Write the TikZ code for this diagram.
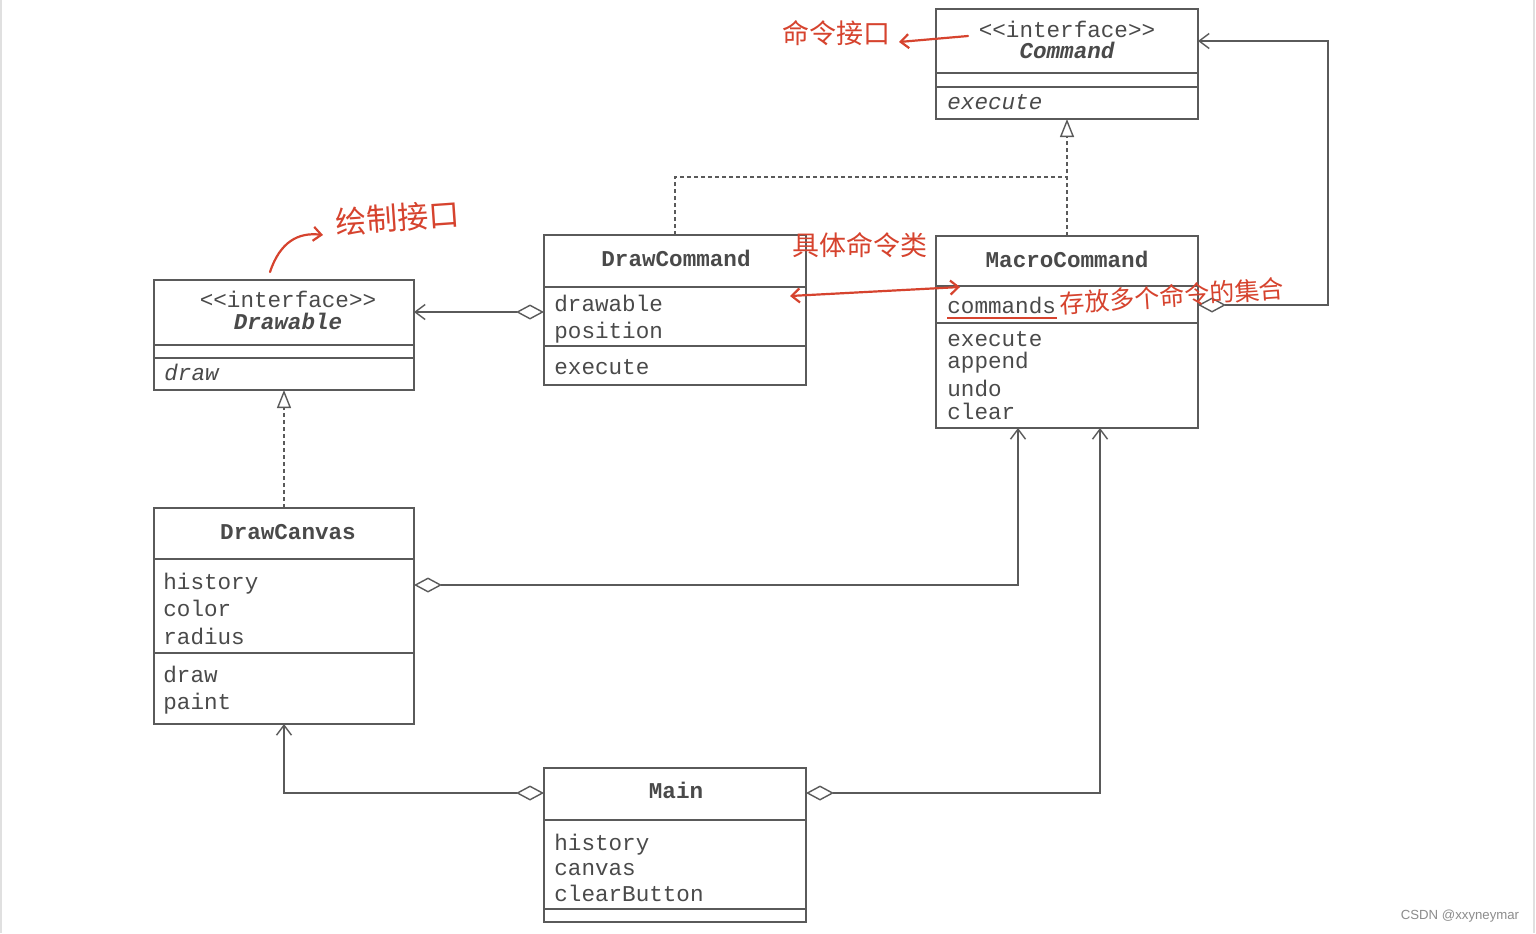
\documentclass[tikz,border=0pt]{standalone}
\usepackage{fontspec}
\setmonofont{Liberation Mono}
\newfontfamily\cjk{Noto Sans CJK SC}
\newfontfamily\wmfont{Liberation Sans}
\usetikzlibrary{arrows.meta,calc}
\definecolor{linec}{HTML}{5A5A5A}
\definecolor{textc}{HTML}{4A4A4A}
\definecolor{redann}{HTML}{D6432E}
\newcommand\umlfont{\fontsize{11.3}{13}\selectfont\ttfamily}
\newcommand\umlbold{\fontsize{11.3}{13}\selectfont\ttfamily\bfseries}
\tikzset{
  box/.style={draw=linec, line width=0.7pt, inner sep=0pt, outer sep=0pt},
  divider/.style={draw=linec, line width=0.7pt},
  txt/.style={anchor=base west, inner sep=0pt, font=\umlfont, text=textc},
  ttl/.style={anchor=base, inner sep=0pt, font=\umlbold, text=textc},
  stereo/.style={anchor=base, inner sep=0pt, font=\umlfont, text=textc},
  agg/.style={draw=linec, line width=0.7pt, {Diamond[open,length=14pt,width=7.5pt]}-{Straight Barb[length=5pt,width=7.5pt]}},
  real/.style={draw=linec, line width=0.7pt, dash pattern=on 2pt off 1.5pt, -{Triangle[open,length=9pt,width=7pt]}},
  dline/.style={draw=linec, line width=0.7pt, dash pattern=on 2pt off 1.5pt},
  ann/.style={inner sep=0pt, text=redann, font=\cjk},
  annarrow/.style={draw=redann, line width=1.1pt, line cap=round, -{Straight Barb[length=4pt,width=7pt]}},
}
\begin{document}
\begin{tikzpicture}[x=0.5pt,y=-0.5pt]
\useasboundingbox (0,0) rectangle (1536,933);
\fill[white] (0,0) rectangle (1536,933);
\draw[black!12, line width=0.6pt] (1,0) -- (1,933);
\draw[black!12, line width=0.6pt] (1534,0) -- (1534,933);

% ---------- boxes ----------
\node[box, minimum width=131pt, minimum height=55pt] (cmd) at (1067,64) {};
\node[box, minimum width=130pt, minimum height=55pt] (dwb) at (284,335) {};
\node[box, minimum width=131pt, minimum height=75pt] (dcmd) at (675,310) {};
\node[box, minimum width=131pt, minimum height=96pt] (mac) at (1067,332) {};
\node[box, minimum width=130pt, minimum height=108pt] (dcv) at (284,616) {};
\node[box, minimum width=131pt, minimum height=77pt] (main) at (675,845) {};

% dividers
\draw[divider] (936,73) -- (1198,73);
\draw[divider] (936,87) -- (1198,87);
\draw[divider] (154,345) -- (414,345);
\draw[divider] (154,358) -- (414,358);
\draw[divider] (544,287) -- (806,287);
\draw[divider] (544,346) -- (806,346);
\draw[divider] (936,286) -- (1198,286);
\draw[divider] (936,323) -- (1198,323);
\draw[divider] (154,559) -- (414,559);
\draw[divider] (154,653) -- (414,653);
\draw[divider] (544,820) -- (806,820);
\draw[divider] (544,909) -- (806,909);

% ---------- texts ----------
\node[stereo] (cmdst) at (1067,37) {<<interface>>};
\node[ttl, font=\umlbold\itshape] (cmdt) at (1067,58) {Command};
\node[txt, font=\umlfont\itshape] (cmdm) at (947,109) {execute};

\node[stereo] (dwbst) at (288,307) {<<interface>>};
\node[ttl, font=\umlbold\itshape] (dwbt) at (288,329) {Drawable};
\node[txt, font=\umlfont\itshape] (dwbm) at (164,380) {draw};

\node[ttl] (dcmdt) at (676,266) {DrawCommand};
\node[txt] (dcmda) at (554,311) {drawable};
\node[txt] (dcmdb) at (554,338) {position};
\node[txt] (dcmdm) at (554,374) {execute};

\node[ttl] (mact) at (1067,267) {MacroCommand};
\node[txt] (maca) at (947,313) {commands};
\node[txt] (macm1) at (947,346) {execute};
\node[txt] (macm2) at (947,368) {append};
\node[txt] (macm3) at (947,396) {undo};
\node[txt] (macm4) at (947,419) {clear};

\node[ttl] (dcvt) at (288,539) {DrawCanvas};
\node[txt] (dcva) at (163,589) {history};
\node[txt] (dcvb) at (163,616) {color};
\node[txt] (dcvc) at (163,644) {radius};
\node[txt] (dcvm1) at (163,682) {draw};
\node[txt] (dcvm2) at (163,709) {paint};

\node[ttl] (maint) at (676,798) {Main};
\node[txt] (maina) at (554,850) {history};
\node[txt] (mainb) at (554,875) {canvas};
\node[txt] (mainc) at (554,901) {clearButton};

% ---------- connectors ----------
\draw[agg] ([yshift=-1pt]dcmd.west) -- ([yshift=-1pt]dwb.east |- dcmd.west);
\draw[real] (dcv.north) -- (dwb.south);
\coordinate (junc) at (1067,177);
\draw[dline] (dcmd.north) |- (junc);
\draw[real] (mac.north) -- (cmd.south);
\draw[agg] ([yshift=13.5pt]mac.east) -- ++(130,0) |- ([yshift=11.5pt]cmd.east);
\draw[agg] ([yshift=15.5pt]dcv.east) -| ([xshift=-24.5pt]mac.south);
\draw[agg] ([yshift=26pt]main.west) -| (dcv.south);
\draw[agg] ([yshift=26pt]main.east) -| ([xshift=16.5pt]mac.south);

% ---------- red annotations ----------
\node[ann, font=\cjk\fontsize{13.5}{13.5}\selectfont] (a1) at (836,33) {命令接口};
\coordinate (a1s) at (968,36);
\coordinate (a1e) at (899,42);
\draw[annarrow] (a1s) -- (a1e);

\node[ann, font=\cjk\fontsize{15.5}{15.5}\selectfont, rotate=4] (a2) at (398,218) {绘制接口};
\coordinate (a2s) at (270,272);
\coordinate (a2e) at (323,235);
\draw[annarrow] (a2s) .. controls (280,242) and (298,232) .. (a2e);

\node[ann, font=\cjk\fontsize{13.5}{13.5}\selectfont] (a3) at (860,245) {具体命令类};
\coordinate (a3l) at (790,296);
\coordinate (a3r) at (960,287);
\draw[annarrow, {Straight Barb[length=4pt,width=7pt]}-{Straight Barb[length=4pt,width=7pt]}] (a3l) -- (a3r);

\draw[draw=redann, line width=1.1pt] (maca.south west) ++(0,4) -- ++(110,0);

\node[ann, font=\cjk\fontsize{12.5}{12.5}\selectfont, rotate=4] (a4) at (1172,296) {存放多个命令的集合};

% watermark
\node[inner sep=0pt, font=\wmfont\fontsize{6.6}{7}\selectfont, text=black!45] (wm) at (1460,916) {CSDN @xxyneymar};
\end{tikzpicture}
\end{document}
